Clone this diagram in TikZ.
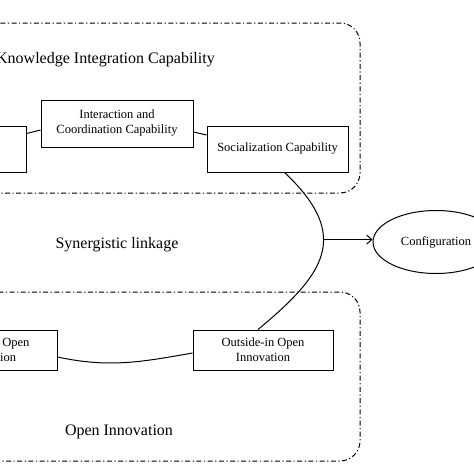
\documentclass[tikz,border=0pt]{standalone}
\usepackage{fontspec}
\setmainfont{Liberation Serif}
\usetikzlibrary{shapes.geometric,arrows.meta,calc}
\begin{document}
\begin{tikzpicture}[x=1pt,y=1pt,
  capbox/.style={draw, line width=0.9pt, inner sep=0pt, align=center,
    font=\fontsize{12.5}{15}\selectfont},
  group/.style={draw, line width=1pt, rounded corners=20pt,
    dash pattern=on 5pt off 2.5pt on 1.2pt off 2.5pt},
  bigtext/.style={inner sep=0pt, font=\fontsize{16}{19}\selectfont},
  link/.style={draw, line width=1pt}]
\useasboundingbox (0,0) rectangle (474,-474);
\clip (0,0) rectangle (474,-474);
% groups
\draw[group] (-100,-23) rectangle (360,-193);
\draw[group] (-100,-292) rectangle (360,-461);
% labels
\node[bigtext, anchor=base east] (kic) at (215,-63) {Knowledge Integration Capability};
\node[bigtext, anchor=base] (syn) at (117,-248) {Synergistic linkage};
\node[bigtext, anchor=base] (oi) at (119,-435) {Open Innovation};
% boxes
\node[capbox, minimum width=142pt, minimum height=46pt] (sys) at (-45,-149) {};
\node[capbox, minimum width=152pt, minimum height=47pt] (inter) at (117,-123.5) {Interaction and\\Coordination Capability};
\node[capbox, minimum width=141pt, minimum height=46pt] (soc) at (277.5,-149) {Socialization Capability};
\node[capbox, minimum width=136pt, minimum height=40pt] (inout) at (-11,-350) {Inside-out Open\\Innovation};
\node[capbox, minimum width=140pt, minimum height=40pt] (outin) at (263,-350) {Outside-in Open\\Innovation};
\node[draw, line width=1pt, ellipse, minimum width=126pt, minimum height=63pt, inner sep=0pt,
  font=\fontsize{12.5}{15}\selectfont] (conf) at (436,-242) {Configuration};
% connectors
\draw[link] ($(sys.north east)+(0,-8)$) -- ($(inter.west)+(0,-6.5)$);
\draw[link] ($(inter.east)+(0,-8.5)$) -- ($(soc.west)+(0,14)$);
\draw[link] ($(soc.south)+(7,0)$) .. controls +(68,-64) and +(66,55) .. coordinate[pos=0.4] (mid) ($(outin.north)+(-5,0)$);
\draw[link] ($(inout.east)+(0,-7)$) to[out=-12,in=190] ($(outin.west)+(0,-3)$);
\draw[link, -{Straight Barb[length=5pt,width=9pt]}] (mid) -- (mid -| conf.west);
\end{tikzpicture}
\end{document}
